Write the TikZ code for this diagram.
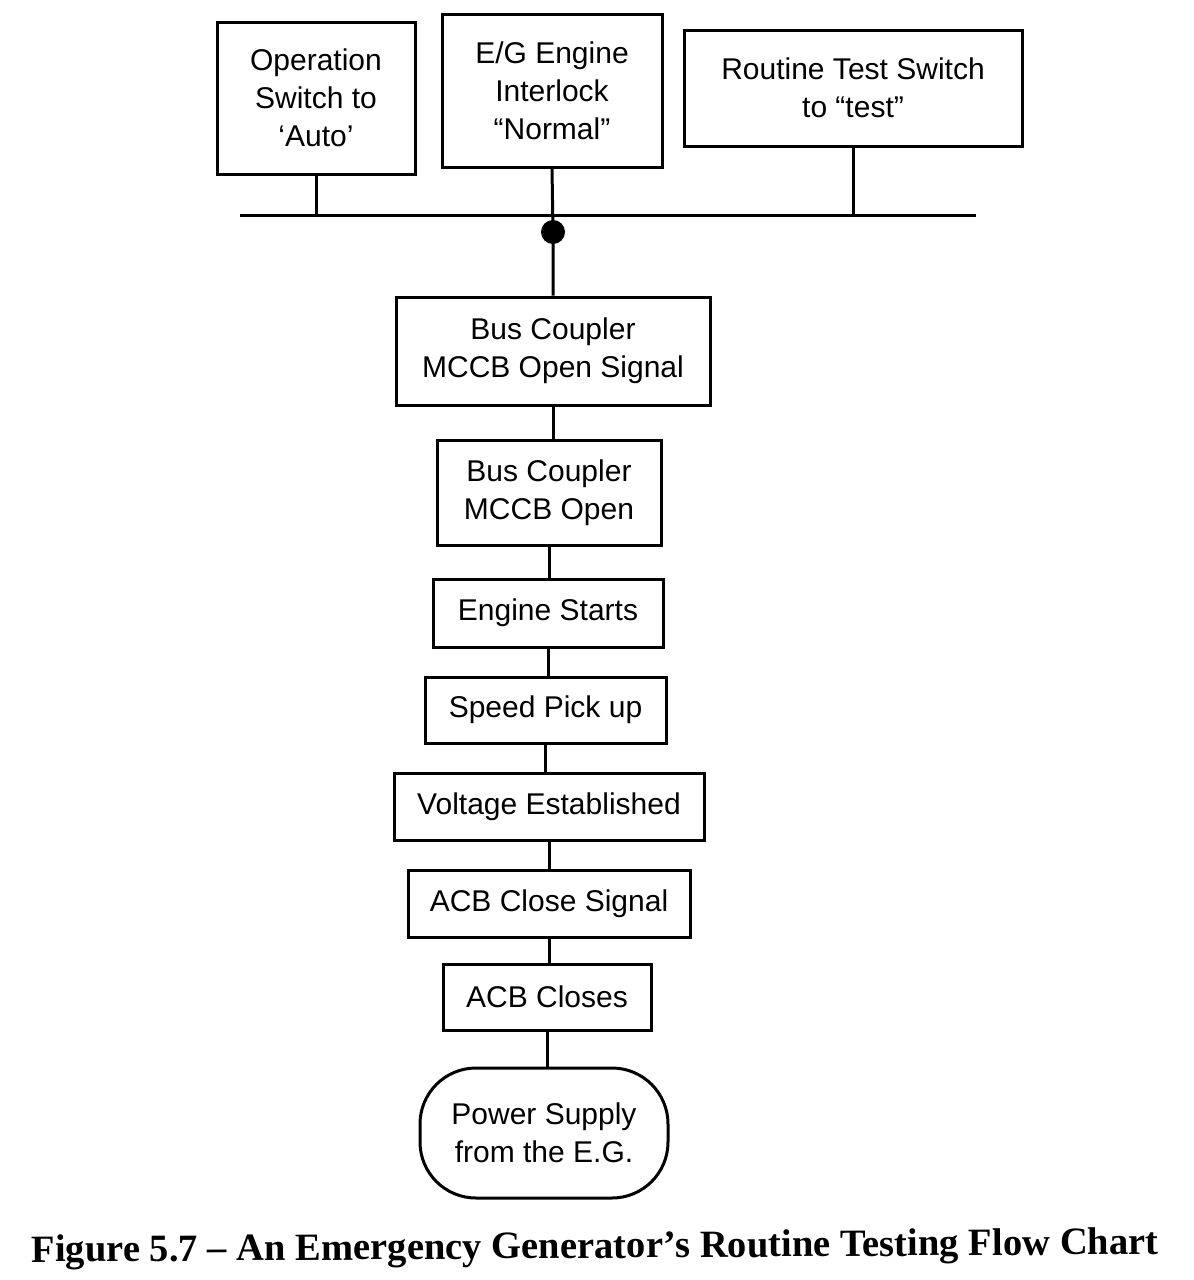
\documentclass[tikz,border=0pt]{standalone}
\usepackage{fontspec}
\setmainfont{Liberation Sans}
\newfontfamily\capfont{Liberation Serif}
\begin{document}
\begin{tikzpicture}[x=0.5pt,y=-0.5pt,line width=1.5pt,
  box/.style={draw,rectangle,align=center,font=\fontsize{15}{19}\selectfont,inner sep=0pt},
  con/.style={line width=1.5pt}]
\useasboundingbox (0,0) rectangle (1194,1280);
\node[box,minimum width=99pt,minimum height=76pt] (op) at (316,98) {Operation\\Switch to\\‘Auto’};
\node[box,minimum width=110pt,minimum height=76.5pt] (eg) at (552,90.5) {E/G Engine\\Interlock\\“Normal”};
\node[box,minimum width=169pt,minimum height=58pt] (rt) at (853,88) {Routine Test Switch\\to “test”};
\coordinate (busL) at (240,215);
\coordinate (busR) at (976,215);
\draw[con] (busL) -- (busR);
\draw[con] (op.south) -- (op.south|-busL);
\draw[con] (rt.south) -- (rt.south|-busL);
\node[circle,fill=black,inner sep=0pt,minimum size=12pt] (dot) at (553,232) {};
\node[box,minimum width=157pt,minimum height=54pt] (s1) at (553,351) {Bus Coupler\\MCCB Open Signal};
\node[box,minimum width=112pt,minimum height=52.5pt] (s2) at (549,492.5) {Bus Coupler\\MCCB Open};
\node[box,minimum width=115pt,minimum height=34pt] (s3) at (548,613) {Engine Starts};
\node[box,minimum width=120.5pt,minimum height=33pt] (s4) at (545.5,710) {Speed Pick up};
\node[box,minimum width=155pt,minimum height=33.5pt] (s5) at (549,806.5) {Voltage Established};
\node[box,minimum width=141pt,minimum height=33.5pt] (s6) at (549,903.5) {ACB Close Signal};
\node[box,minimum width=104pt,minimum height=33pt] (s7) at (547,997) {ACB Closes};
\node[box,rounded corners=28pt,minimum width=124pt,minimum height=65pt] (s8) at (544,1133) {Power Supply\\from the E.G.};
\draw[con] (eg.south) -- (dot.center) -- (dot.center|-s1.north);
\foreach \a/\b in {s1/s2,s2/s3,s3/s4,s4/s5,s5/s6,s6/s7,s7/s8}
  \draw[con] (\a.south) -- (\a.south|-\b.north);
\node[font=\capfont\bfseries\fontsize{19.3}{22}\selectfont,rotate=0.4,inner sep=0pt] (cap) at (595,1249) {Figure 5.7 – An Emergency Generator’s Routine Testing Flow Chart};
\end{tikzpicture}
\end{document}
